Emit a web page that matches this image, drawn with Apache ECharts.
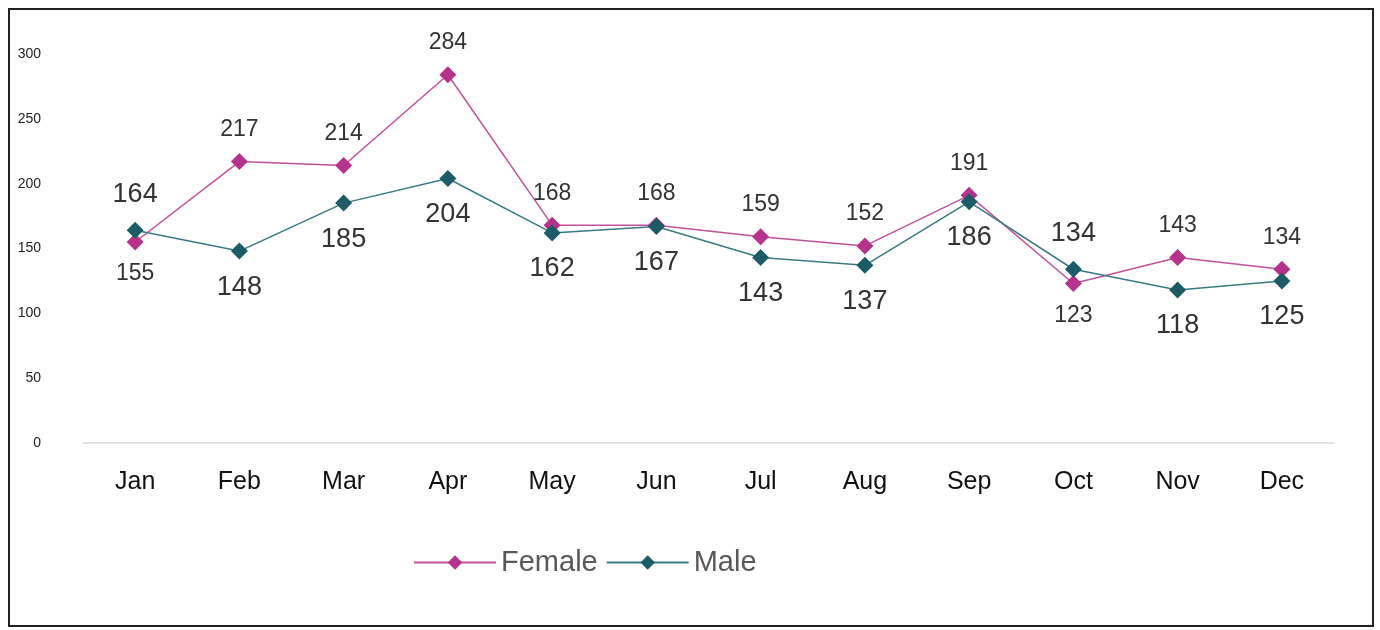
<!DOCTYPE html>
<html>
<head>
<meta charset="utf-8">
<script src="https://cdn.jsdelivr.net/npm/echarts@6/dist/echarts.min.js"></script>
<style>
html,body{margin:0;padding:0;background:#fff;}
#box{position:absolute;left:8px;top:8px;width:1362px;height:615px;border:2px solid #222;}
#chart{position:absolute;left:0;top:0;width:1380px;height:630px;}
</style>
</head>
<body>
<div id="box"></div>
<div id="chart"></div>
<script>
var months = ['Jan','Feb','Mar','Apr','May','Jun','Jul','Aug','Sep','Oct','Nov','Dec'];
var female = [155,217,214,284,168,168,159,152,191,123,143,134];
var male = [164,148,185,204,162,167,143,137,186,134,118,125];
// label placement per point: 'top' or 'bottom'
var femalePos = ['bottom','top','top','top','top','top','top','top','top','bottom','top','top'];
var malePos = ['top','bottom','bottom','bottom','bottom','bottom','bottom','bottom','bottom','top','bottom','bottom'];

var chart = echarts.init(document.getElementById('chart'));

function build(vals, pos, dist){
    return vals.map(function(v, i){
        return {value: v, label: {position: pos[i], distance: dist}};
    });
}

chart.setOption({
    animation: false,
    grid: {left: 83, right: 46, top: 54, bottom: 187},
    legend: {
        bottom: 48, left: 408, itemGap: 8, itemWidth: 82, itemHeight: 18,
        textStyle: {fontSize: 29, color: '#595959', fontFamily: 'Liberation Sans'},
        data: ['Female','Male']
    },
    xAxis: {
        type: 'category', data: months, boundaryGap: true,
        axisLine: {lineStyle: {color: '#d9d9d9', width: 1.5}},
        axisTick: {show: false},
        axisLabel: {fontSize: 25, color: '#111', margin: 27, fontFamily: 'Liberation Sans'}
    },
    yAxis: {
        type: 'value', min: 0, max: 300, interval: 50,
        axisLine: {show: false}, axisTick: {show: false},
        splitLine: {show: false},
        axisLabel: {fontSize: 14, color: '#222', margin: 42, fontFamily: 'Liberation Sans'}
    },
    series: [{
        name: 'Female', type: 'line', data: build(female, femalePos, 12),
        symbol: 'diamond', symbolSize: 17,
        itemStyle: {color: '#b5338a'}, lineStyle: {color: '#c0519a', width: 1.5},
        label: {show: true, fontSize: 23, color: '#333', fontFamily: 'Liberation Sans'}
    }, {
        name: 'Male', type: 'line', data: build(male, malePos, 14),
        symbol: 'diamond', symbolSize: 17,
        itemStyle: {color: '#1d5c66'}, lineStyle: {color: '#3a7a82', width: 1.5},
        label: {show: true, fontSize: 27, color: '#333', fontFamily: 'Liberation Sans'}
    }]
});
</script>
</body>
</html>
